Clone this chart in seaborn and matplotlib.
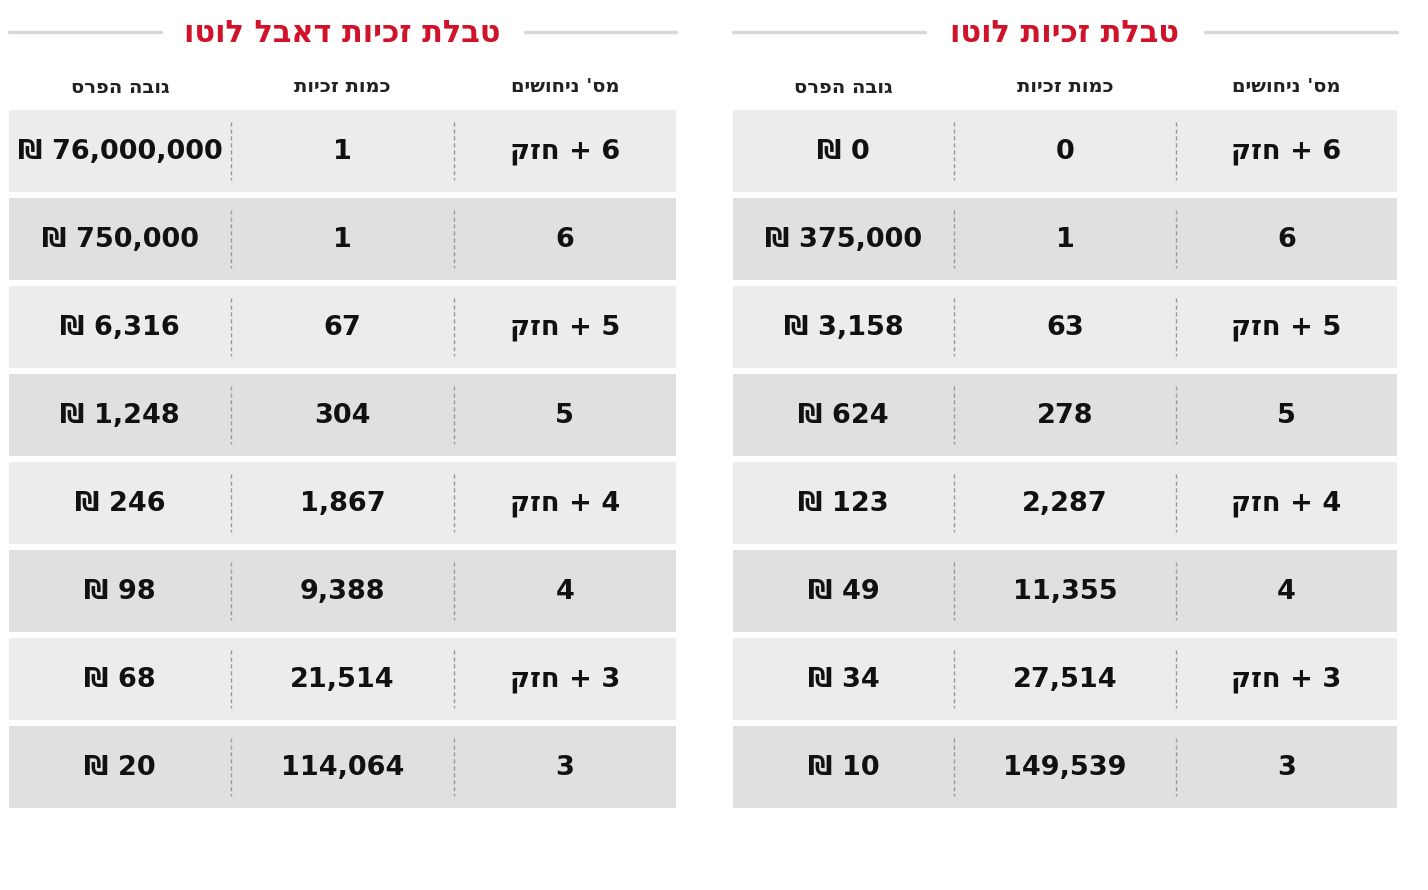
import re
import matplotlib
matplotlib.use("Agg")
import matplotlib.pyplot as plt
import seaborn as sns

sns.set_style("white")
plt.rcParams['font.family'] = ['DejaVu Sans']

headers = ["מס' ניחושים", "כמות זכיות", "גובה הפרס"]
guesses = ["6 + חזק", "6", "5 + חזק", "5", "4 + חזק", "4", "3 + חזק", "3"]
lotto_title = "טבלת זכיות לוטו"
lotto_wins = ["0", "1", "63", "278", "2,287", "11,355", "27,514", "149,539"]
lotto_prize = ["0 ₪", "375,000 ₪", "3,158 ₪", "624 ₪", "123 ₪", "49 ₪", "34 ₪", "10 ₪"]
double_title = "טבלת זכיות דאבל לוטו"
double_wins = ["1", "1", "67", "304", "1,867", "9,388", "21,514", "114,064"]
double_prize = ["76,000,000 ₪", "750,000 ₪", "6,316 ₪", "1,248 ₪", "246 ₪", "98 ₪", "68 ₪", "20 ₪"]


def vis(s):
    r = s[::-1]
    return re.sub(r"[0-9A-Za-z,.]+", lambda m: m.group(0)[::-1], r)


fig = plt.figure(figsize=(14.28, 8.9), dpi=100)
ax = fig.add_axes([0, 0, 1, 1])
ax.set_xlim(0, 1428)
ax.set_ylim(890, 0)
ax.axis("off")

RED = "#d0122a"


def table(x0, x1, title, wins, prizes, gap):
    w = x1 - x0
    cw = w / 3
    mid = (x0 + x1) / 2
    ax.text(mid, 33, vis(title), ha="center", va="center", fontsize=22,
            fontweight="bold", color=RED)
    ax.plot([x0, mid - gap], [32, 32], color="#d8d8d8", lw=2.5)
    ax.plot([mid + gap, x1], [32, 32], color="#d8d8d8", lw=2.5)
    cols = [x0 + cw * 0.5, x0 + cw * 1.5, x0 + cw * 2.5]  # prize, wins, guesses
    for c, h in zip(cols, headers[::-1]):
        ax.text(c, 87, vis(h), ha="center", va="center", fontsize=14,
                fontweight="bold", color="#222222")
    for i, (g, n, p) in enumerate(zip(guesses, wins, prizes)):
        top = 110 + 88 * i
        ax.add_patch(plt.Rectangle((x0, top), w, 82,
                     color="#ececec" if i % 2 == 0 else "#e0e0e0", lw=0))
        for k in (1, 2):
            ax.plot([x0 + cw * k] * 2, [top + 12, top + 70], color="#999999",
                    lw=1, ls=(0, (3, 2)))
        yc = top + 42
        for c, t in zip(cols, [p, n, g]):
            ax.text(c, yc, vis(t), ha="center", va="center", fontsize=19.5,
                    fontweight="bold", color="#111111")


table(9, 676, double_title, double_wins, double_prize, 182)
table(733, 1397, lotto_title, lotto_wins, lotto_prize, 140)

fig.savefig("out.png", dpi=100, facecolor="white")
